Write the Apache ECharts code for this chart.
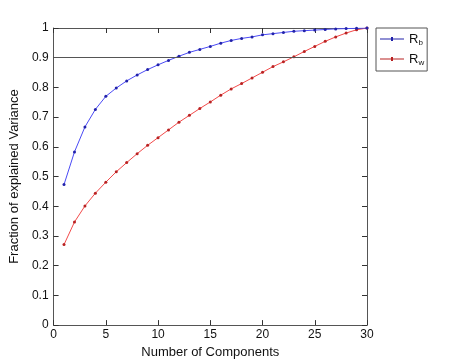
<!DOCTYPE html>
<html>
<head>
<meta charset="utf-8">
<script src="https://cdn.jsdelivr.net/npm/echarts@6/dist/echarts.min.js"></script>
<style>
  html, body { margin: 0; padding: 0; background: #fff; }
  #chart { width: 474px; height: 364px; }
</style>
</head>
<body>
<div id="chart"></div>
<script>
  // number of components 1..30
  var components = [1, 2, 3, 4, 5, 6, 7, 8, 9, 10, 11, 12, 13, 14, 15,
    16, 17, 18, 19, 20, 21, 22, 23, 24, 25, 26, 27, 28, 29, 30];
  // fraction of explained variance
  var rb = [0.473, 0.583, 0.667, 0.726, 0.770, 0.798, 0.822, 0.842, 0.860, 0.876,
    0.891, 0.905, 0.918, 0.928, 0.938, 0.949, 0.958, 0.965, 0.970, 0.977,
    0.981, 0.985, 0.989, 0.991, 0.993, 0.995, 0.997, 0.998, 0.999, 1.0];
  var rw = [0.271, 0.347, 0.401, 0.444, 0.481, 0.516, 0.547, 0.577, 0.605, 0.631,
    0.657, 0.683, 0.706, 0.729, 0.751, 0.774, 0.795, 0.813, 0.832, 0.851,
    0.870, 0.886, 0.903, 0.921, 0.938, 0.955, 0.970, 0.983, 0.994, 1.0];
  var threshold = 0.9;
  var xTicks = [0, 5, 10, 15, 20, 25, 30];
  var yTicks = ['0', '0.1', '0.2', '0.3', '0.4', '0.5', '0.6', '0.7', '0.8', '0.9', '1'];

  function pairs(ys) {
    return components.map(function (c, i) { return [c, ys[i]]; });
  }

  var font = 'Liberation Sans, Arial, sans-serif';
  function axisLine() {
    return { show: true, onZero: false, lineStyle: { color: '#555', width: 1 } };
  }
  function axisTick() {
    return { show: true, inside: true, length: 5, lineStyle: { color: '#333', width: 1 } };
  }
  // grid lines kept off by making them transparent
  function noSplit() {
    return { show: true, lineStyle: { color: 'rgba(0,0,0,0)' } };
  }
  // legend sample: thin line with a small dot in the middle
  var legendIcon = 'path://M0,4.5H24V5.5H0Z M11,3H13V7H11Z';

  var chart = echarts.init(document.getElementById('chart'));
  var option = {
    animation: false,
    backgroundColor: '#fff',
    textStyle: { fontFamily: font },
    grid: { left: 41, right: 107, top: 28, bottom: 33 },
    legend: {
      orient: 'vertical',
      left: 376,
      top: 28,
      padding: [3, 3, 4, 4],
      itemGap: 4,
      itemWidth: 24,
      itemHeight: 4,
      borderColor: '#555',
      borderWidth: 1,
      borderRadius: 0,
      data: [{ name: 'Rb', icon: legendIcon }, { name: 'Rw', icon: legendIcon }],
      formatter: function (name) {
        return '{m|R}{s|' + name.slice(1) + '}';
      },
      textStyle: {
        rich: {
          m: { fontSize: 13, lineHeight: 14, color: '#111', fontFamily: font },
          s: { fontSize: 8, lineHeight: 14, color: '#111', fontFamily: font, padding: [8, 0, 0, 0] }
        }
      }
    },
    xAxis: [{
      type: 'value', min: 0, max: 30, interval: 5,
      name: 'Number of Components', nameLocation: 'middle', nameGap: 17,
      nameTextStyle: { fontSize: 13, color: '#111', fontFamily: font },
      axisLine: axisLine(),
      axisTick: axisTick(),
      axisLabel: {
        fontSize: 12, color: '#111', margin: 4,
        formatter: function (v) { return xTicks.indexOf(v) >= 0 ? String(v) : ''; }
      },
      splitLine: noSplit()
    }, {
      type: 'value', position: 'top', min: 0, max: 30, interval: 5,
      axisLine: axisLine(),
      axisTick: axisTick(),
      axisLabel: { show: false },
      splitLine: noSplit()
    }],
    yAxis: [{
      type: 'value', min: 0, max: 1, interval: 0.1,
      name: 'Fraction of explained Variance', nameLocation: 'middle', nameGap: 28,
      nameTextStyle: { fontSize: 13, color: '#111', fontFamily: font },
      axisLine: axisLine(),
      axisTick: axisTick(),
      axisLabel: {
        fontSize: 12, color: '#111', margin: 5,
        formatter: function (v) { return yTicks[Math.round(v * 10)]; }
      },
      splitLine: noSplit()
    }, {
      type: 'value', position: 'right', min: 0, max: 1, interval: 0.1,
      axisLine: axisLine(),
      axisTick: axisTick(),
      axisLabel: { show: false },
      splitLine: noSplit()
    }],
    series: [{
      name: 'Rb',
      type: 'line',
      data: pairs(rb),
      symbol: 'circle',
      symbolSize: 3,
      color: '#4a4af5',
      lineStyle: { width: 1, color: '#4a4af5' },
      itemStyle: { color: '#2222aa' },
      markLine: {
        silent: true,
        symbol: 'none',
        label: { show: false },
        lineStyle: { color: '#555', width: 1, type: 'solid' },
        data: [{ yAxis: threshold }]
      },
      z: 3
    }, {
      name: 'Rw',
      type: 'line',
      data: pairs(rw),
      symbol: 'circle',
      symbolSize: 3,
      color: '#f24a4a',
      lineStyle: { width: 1, color: '#f24a4a' },
      itemStyle: { color: '#b82222' },
      z: 2
    }]
  };
  chart.setOption(option);
</script>
</body>
</html>
